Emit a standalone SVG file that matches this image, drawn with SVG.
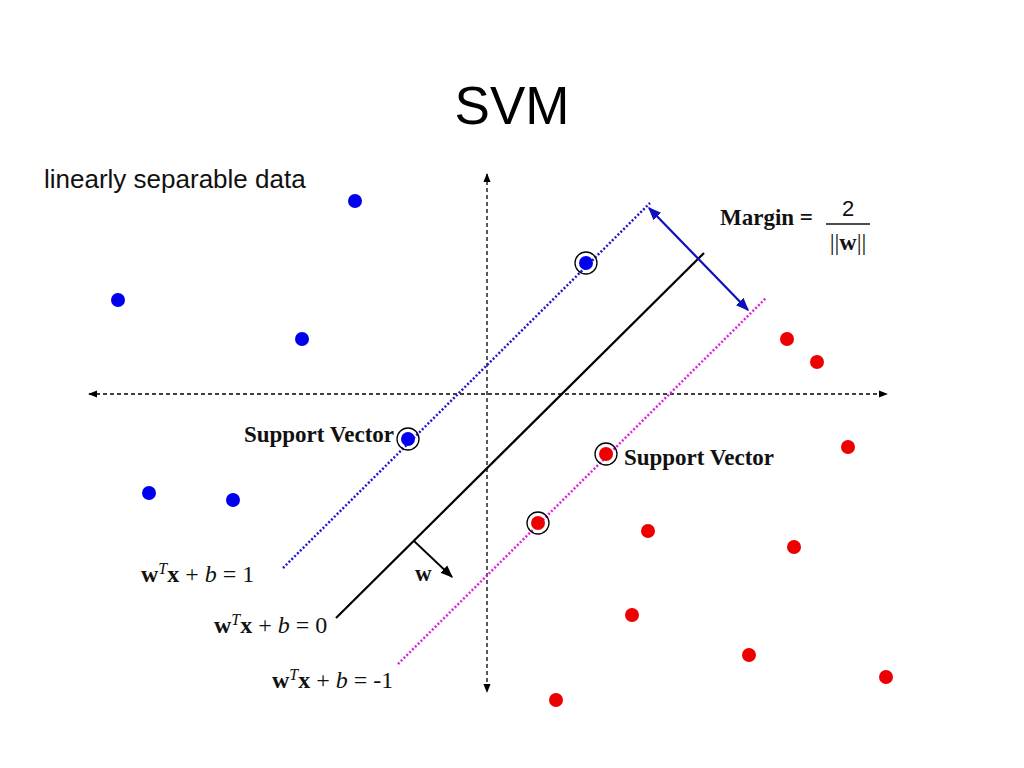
<svg xmlns="http://www.w3.org/2000/svg" width="1024" height="768" viewBox="0 0 1024 768">
<defs>
<style>
.t{font-family:"Liberation Serif",serif;font-weight:bold;font-size:23px;fill:#111}
.e{font-family:"Liberation Serif",serif;font-size:24px;fill:#111}
.b{fill:#0000ee}.r{fill:#ee0000}
.ring{fill:none;stroke:#000;stroke-width:1.3}
</style>
<marker id="ak" viewBox="0 0 10 10" refX="9" refY="5" markerWidth="7" markerHeight="7" orient="auto-start-reverse"><path d="M0,1 L10,5 L0,9 z" fill="#000"/></marker>
<marker id="ab" viewBox="0 0 10 10" refX="9" refY="5" markerWidth="6" markerHeight="6" orient="auto-start-reverse"><path d="M0,1 L10,5 L0,9 z" fill="#1010bb"/></marker>
</defs>
<rect width="1024" height="768" fill="#fff"/>
<text x="512" y="124" text-anchor="middle" font-family="Liberation Sans,sans-serif" font-size="53" fill="#000">SVM</text>
<text x="44" y="188" font-family="Liberation Sans,sans-serif" font-size="26" fill="#111">linearly separable data</text>
<g id="connectors" fill="none">
<line x1="487" y1="174" x2="487" y2="692" stroke="#000" stroke-width="1.3" stroke-dasharray="4,3" marker-start="url(#ak)" marker-end="url(#ak)"/>
<line x1="89" y1="394" x2="887" y2="394" stroke="#000" stroke-width="1.3" stroke-dasharray="4,3" marker-start="url(#ak)" marker-end="url(#ak)"/>
<line x1="283" y1="568" x2="650" y2="203" stroke="#1a1acc" stroke-width="2.5" stroke-dasharray="2,2"/>
<line x1="336" y1="618" x2="704" y2="253" stroke="#000" stroke-width="2.2"/>
<line x1="398" y1="664" x2="766" y2="298" stroke="#e020e0" stroke-width="2.5" stroke-dasharray="2,2"/>
<line x1="649" y1="208" x2="748" y2="310" stroke="#1010bb" stroke-width="2.2" marker-start="url(#ab)" marker-end="url(#ab)"/>
<line x1="414" y1="541" x2="452" y2="577" stroke="#000" stroke-width="1.8" marker-end="url(#ak)"/>
</g>
<g id="blue-points">
<circle class="b" cx="355" cy="201" r="7"/><circle class="b" cx="118" cy="300" r="7"/><circle class="b" cx="302" cy="339" r="7"/>
<circle class="b" cx="149" cy="493" r="7"/><circle class="b" cx="233" cy="500" r="7"/>
<circle class="b" cx="586" cy="263" r="7"/><circle class="ring" cx="586" cy="263" r="11"/>
<circle class="b" cx="408" cy="439" r="7"/><circle class="ring" cx="408" cy="439" r="11"/>
</g>
<g id="red-points">
<circle class="r" cx="787" cy="339" r="7"/><circle class="r" cx="817" cy="362" r="7"/><circle class="r" cx="848" cy="447" r="7"/>
<circle class="r" cx="606" cy="454" r="7"/><circle class="ring" cx="606" cy="454" r="11"/>
<circle class="r" cx="538" cy="523" r="7"/><circle class="ring" cx="538" cy="523" r="11"/>
<circle class="r" cx="648" cy="531" r="7"/><circle class="r" cx="794" cy="547" r="7"/><circle class="r" cx="632" cy="615" r="7"/>
<circle class="r" cx="749" cy="655" r="7"/><circle class="r" cx="886" cy="677" r="7"/><circle class="r" cx="556" cy="700" r="7"/>
</g>
<g id="labels">
<text class="t" x="244" y="442" textLength="150">Support Vector</text>
<text class="t" x="624" y="465" textLength="150">Support Vector</text>
<text class="t" x="720" y="225">Margin =</text>
<text x="848" y="216" text-anchor="middle" font-family="Liberation Sans,sans-serif" font-size="22" fill="#111">2</text>
<line x1="826" y1="224" x2="870" y2="224" stroke="#111" stroke-width="1.3"/>
<text x="848" y="250" text-anchor="middle" class="e">||<tspan font-weight="bold">w</tspan>||</text>
<text class="t" x="415" y="581">w</text>
<text x="141" y="582" class="e"><tspan font-weight="bold">w</tspan><tspan font-style="italic" font-size="16" dy="-8">T</tspan><tspan font-weight="bold" dy="8">x</tspan> + <tspan font-style="italic">b</tspan> = 1</text>
<text x="214" y="633" class="e"><tspan font-weight="bold">w</tspan><tspan font-style="italic" font-size="16" dy="-8">T</tspan><tspan font-weight="bold" dy="8">x</tspan> + <tspan font-style="italic">b</tspan> = 0</text>
<text x="272" y="688" class="e"><tspan font-weight="bold">w</tspan><tspan font-style="italic" font-size="16" dy="-8">T</tspan><tspan font-weight="bold" dy="8">x</tspan> + <tspan font-style="italic">b</tspan> = -1</text>
</g>
</svg>
